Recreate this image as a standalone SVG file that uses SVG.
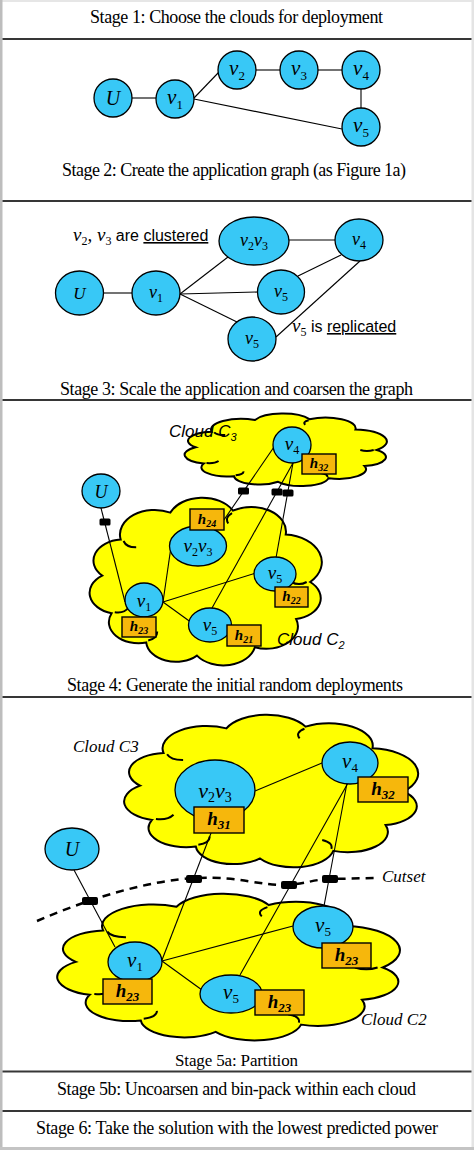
<svg xmlns="http://www.w3.org/2000/svg" width="474" height="1150" viewBox="0 0 474 1150">
<style>
.stage{font-family:"Liberation Serif",serif;font-size:18px;fill:#000;text-anchor:middle}
.node{fill:#38c8f6;stroke:#000;stroke-width:1.3}
.m{font-family:"Liberation Serif",serif;font-style:italic;text-anchor:middle;fill:#000}
.sub{font-style:normal}
.edge{stroke:#000;stroke-width:1.1;fill:none}
.cloud{fill:#ffff00;stroke:#000;stroke-width:2;vector-effect:non-scaling-stroke}
.crease{fill:none;stroke:#000;stroke-width:2;vector-effect:non-scaling-stroke}
.box{fill:#f6b70c;stroke:#000;stroke-width:1.4}
.hl{font-family:"Liberation Serif",serif;font-weight:bold;font-style:italic;text-anchor:middle;fill:#000}
.mk{fill:#000}
.sans{font-family:"Liberation Sans",sans-serif;font-style:normal}
.ci{font-family:"Liberation Sans",sans-serif;font-style:italic;fill:#000}
.cs{font-family:"Liberation Serif",serif;font-style:italic;fill:#000}
.div{stroke:#363636;stroke-width:2}
</style>
<defs>
<g id="cloudShape">
<path class="cloud" d="M84,0 A24,24 0 0 1 72.7,42 A25.5,25.5 0 0 1 39.4,74.2 A26,26 0 0 1 -7.3,83.7 A24,24 0 0 1 -48.2,68.8 A24,24 0 0 1 -76.1,35.5 A24,24 0 0 1 -83.7,-7.3 A24,24 0 0 1 -68.8,-48.2 A28,28 0 0 1 -28.7,-78.9 A28,28 0 0 1 21.7,-81.1 A28,28 0 0 1 64.3,-54 A31.6,31.6 0 0 1 84,0 Z"/>
<path class="crease" d="M81.2,0 Q75,4.8 68.8,0 M38.1,71.7 Q39.4,64 32.3,60.7 M-46.6,66.5 Q-39.1,64.2 -39.4,56.3 M-73.6,34.3 Q-66,36 -62.4,29 M-66.5,-46.6 Q-64.2,-39.2 -56.3,-39.4 M21,-78.4 Q14.9,-73.6 17.9,-66.4"/>
</g>
</defs>
<rect x="0" y="0" width="474" height="1150" fill="#fff"/>
<g id="frame">
<rect x="0" y="0" width="474" height="2" fill="#e6e6e6"/>
<rect x="0" y="0" width="2.5" height="1150" fill="#bdbdbd"/>
<rect x="471.5" y="0" width="2.5" height="1150" fill="#e4e4e4"/>
<rect x="0" y="1147" width="474" height="3" fill="#c4c4c4"/>
<line class="div" x1="2.5" y1="39" x2="471.5" y2="39"/>
<line class="div" x1="2.5" y1="201" x2="471.5" y2="201"/>
<line class="div" x1="2.5" y1="400" x2="471.5" y2="400"/>
<line class="div" x1="2.5" y1="697" x2="471.5" y2="697"/>
<line class="div" x1="2.5" y1="1071.5" x2="471.5" y2="1071.5"/>
<line class="div" x1="2.5" y1="1111" x2="471.5" y2="1111"/>
</g>
<g id="stage-titles">
<text class="stage" x="236.5" y="23" textLength="293">Stage 1: Choose the clouds for deployment</text>
<text class="stage" x="234" y="176" textLength="344">Stage 2: Create the application graph (as Figure 1a)</text>
<text class="stage" x="236.5" y="395" textLength="353">Stage 3: Scale the application and coarsen the graph</text>
<text class="stage" x="235" y="691" textLength="336">Stage 4: Generate the initial random deployments</text>
<text class="stage" x="236.5" y="1066" textLength="123" style="font-size:17px">Stage 5a: Partition</text>
<text class="stage" x="236.5" y="1095" textLength="359">Stage 5b: Uncoarsen and bin-pack within each cloud</text>
<text class="stage" x="237" y="1134" textLength="402">Stage 6: Take the solution with the lowest predicted power</text>
</g>

<!-- Stage 1-2 graph -->
<g id="s2-connectors">
<line class="edge" x1="132" y1="98" x2="156" y2="98"/>
<line class="edge" x1="194" y1="98" x2="219" y2="72"/>
<line class="edge" x1="256" y1="70" x2="280" y2="70"/>
<line class="edge" x1="318" y1="70" x2="342" y2="70"/>
<line class="edge" x1="361" y1="89" x2="361" y2="108"/>
<line class="edge" x1="194" y1="99" x2="342" y2="129"/>
</g>
<g id="s2-U"><circle class="node" cx="113" cy="98" r="19"/><text class="m" x="113" y="105" font-size="20">U</text></g>
<g id="s2-v1"><circle class="node" cx="175" cy="99" r="19"/><text class="m" x="175" y="103.5" font-size="21">v<tspan class="sub" font-size="13" dy="5">1</tspan></text></g>
<g id="s2-v2"><circle class="node" cx="237" cy="70" r="19"/><text class="m" x="237" y="74.5" font-size="21">v<tspan class="sub" font-size="13" dy="5">2</tspan></text></g>
<g id="s2-v3"><circle class="node" cx="299" cy="70" r="19"/><text class="m" x="299" y="74.5" font-size="21">v<tspan class="sub" font-size="13" dy="5">3</tspan></text></g>
<g id="s2-v4"><circle class="node" cx="361" cy="70" r="19"/><text class="m" x="361" y="74.5" font-size="21">v<tspan class="sub" font-size="13" dy="5">4</tspan></text></g>
<g id="s2-v5"><circle class="node" cx="361" cy="127" r="19"/><text class="m" x="361" y="131.5" font-size="21">v<tspan class="sub" font-size="13" dy="5">5</tspan></text></g>

<!-- Stage 3 graph -->
<g id="s3-connectors">
<line class="edge" x1="103" y1="293" x2="133" y2="293"/>
<line class="edge" x1="180" y1="294" x2="228" y2="257"/>
<line class="edge" x1="180" y1="294" x2="258" y2="292"/>
<line class="edge" x1="180" y1="294" x2="237" y2="322"/>
<line class="edge" x1="288" y1="240" x2="336" y2="240"/>
<line class="edge" x1="298" y1="276" x2="341" y2="255"/>
<line class="edge" x1="276" y1="337" x2="360" y2="261"/>
</g>
<g id="s3-v2v3"><ellipse class="node" cx="254" cy="241" rx="35" ry="24"/><text class="m" x="254" y="246" font-size="18">v<tspan class="sub" font-size="12" dy="4">2</tspan><tspan dy="-4">v</tspan><tspan class="sub" font-size="12" dy="4">3</tspan></text></g>
<g id="s3-v4"><ellipse class="node" cx="359" cy="240" rx="24" ry="21"/><text class="m" x="359" y="245" font-size="18">v<tspan class="sub" font-size="12" dy="4">4</tspan></text></g>
<g id="s3-U"><ellipse class="node" cx="79.5" cy="293" rx="24" ry="22"/><text class="m" x="79.5" y="299" font-size="17">U</text></g>
<g id="s3-v1"><ellipse class="node" cx="156" cy="293" rx="24" ry="22"/><text class="m" x="156" y="298" font-size="18">v<tspan class="sub" font-size="12" dy="4">1</tspan></text></g>
<g id="s3-v5a"><ellipse class="node" cx="281" cy="292" rx="23.5" ry="22"/><text class="m" x="281" y="297" font-size="18">v<tspan class="sub" font-size="12" dy="4">5</tspan></text></g>
<g id="s3-v5b"><ellipse class="node" cx="252" cy="339" rx="24" ry="22"/><text class="m" x="252" y="344" font-size="18">v<tspan class="sub" font-size="12" dy="4">5</tspan></text></g>
<g id="s3-notes">
<text class="m" x="73" y="241" font-size="19" style="text-anchor:start">v<tspan class="sub" font-size="12" dy="4">2</tspan><tspan dy="-4">, v</tspan><tspan class="sub" font-size="12" dy="4">3</tspan><tspan class="sans" font-size="16" dy="-4"> are </tspan><tspan class="sans" font-size="16" text-decoration="underline">clustered</tspan></text>
<text class="m" x="292" y="332" font-size="19" style="text-anchor:start">v<tspan class="sub" font-size="12" dy="4">5</tspan><tspan class="sans" font-size="16" dy="-4"> is </tspan><tspan class="sans" font-size="16" text-decoration="underline">replicated</tspan></text>
</g>

<!-- Stage 4 -->
<g id="s4-clouds">
<use href="#cloudShape" transform="translate(286,450) scale(1.08,0.38)"/>
<use href="#cloudShape" transform="translate(206,582) scale(1.24,0.88)"/>
</g>
<g id="s4-connectors">
<line class="edge" x1="101" y1="508" x2="125" y2="602"/>
<line class="edge" x1="206" y1="546" x2="274" y2="447"/>
<line class="edge" x1="163" y1="602" x2="172" y2="540"/>
<line class="edge" x1="163" y1="602" x2="256" y2="573"/>
<line class="edge" x1="163" y1="602" x2="192" y2="623"/>
<line class="edge" x1="293" y1="463" x2="212" y2="608"/>
<line class="edge" x1="293" y1="463" x2="276" y2="558"/>
<rect class="mk" x="99.5" y="518.5" width="11" height="7" rx="1.5"/>
<rect class="mk" x="238" y="487.5" width="11" height="7" rx="1.5"/>
<rect class="mk" x="271.5" y="488.5" width="11" height="7" rx="1.5"/>
<rect class="mk" x="282.5" y="489.5" width="11" height="7" rx="1.5"/>
</g>
<g id="s4-labels">
<text class="ci" x="169" y="437" font-size="17">Cloud C<tspan font-size="11" dy="4">3</tspan></text>
<text class="ci" x="277" y="645" font-size="17">Cloud C<tspan font-size="11" dy="4">2</tspan></text>
</g>
<g id="s4-U"><ellipse class="node" cx="101" cy="491" rx="19" ry="17"/><text class="m" x="101" y="497.5" font-size="18">U</text></g>
<g id="s4-v4"><ellipse class="node" cx="292" cy="445" rx="19" ry="18"/><text class="m" x="292" y="450" font-size="19">v<tspan class="sub" font-size="12" dy="4">4</tspan></text></g>
<g id="s4-v2v3"><ellipse class="node" cx="198" cy="546" rx="28.5" ry="20"/><text class="m" x="198" y="552" font-size="19">v<tspan class="sub" font-size="12" dy="4">2</tspan><tspan dy="-4">v</tspan><tspan class="sub" font-size="12" dy="4">3</tspan></text></g>
<g id="s4-v5a"><ellipse class="node" cx="275" cy="574" rx="21" ry="17"/><text class="m" x="275" y="579" font-size="19">v<tspan class="sub" font-size="12" dy="4">5</tspan></text></g>
<g id="s4-v1"><ellipse class="node" cx="144" cy="600" rx="19" ry="17"/><text class="m" x="144" y="607" font-size="19">v<tspan class="sub" font-size="12" dy="4">1</tspan></text></g>
<g id="s4-v5b"><ellipse class="node" cx="210" cy="625" rx="21.5" ry="17"/><text class="m" x="210" y="631" font-size="19">v<tspan class="sub" font-size="12" dy="4">5</tspan></text></g>
<g id="s4-h32"><rect class="box" x="302" y="454" width="34" height="20"/><text class="hl" x="319" y="468" font-size="15">h<tspan font-size="10" dy="3">32</tspan></text></g>
<g id="s4-h24"><rect class="box" x="190" y="509" width="34" height="21"/><text class="hl" x="207" y="523.5" font-size="15">h<tspan font-size="10" dy="3">24</tspan></text></g>
<g id="s4-h22"><rect class="box" x="275" y="587" width="33" height="20"/><text class="hl" x="291.5" y="601" font-size="15">h<tspan font-size="10" dy="3">22</tspan></text></g>
<g id="s4-h23"><rect class="box" x="122" y="617" width="34" height="20"/><text class="hl" x="139" y="631" font-size="15">h<tspan font-size="10" dy="3">23</tspan></text></g>
<g id="s4-h21"><rect class="box" x="227" y="625" width="34" height="21"/><text class="hl" x="244" y="639.5" font-size="15">h<tspan font-size="10" dy="3">21</tspan></text></g>

<!-- Stage 5a -->
<g id="s5-clouds">
<use href="#cloudShape" transform="translate(271.5,791.5) scale(1.57,0.8)"/>
<use href="#cloudShape" transform="translate(229,967.5) scale(1.83,0.77)"/>
</g>
<g id="s5-connectors">
<path d="M37,921 C90,898 150,880 197,878 C240,876 260,886 287,885 C305,884 315,879 331,879 L375,878" fill="none" stroke="#000" stroke-width="2.5" stroke-dasharray="8,6"/>
<line class="edge" x1="255" y1="791" x2="322" y2="763"/>
<line class="edge" x1="74" y1="870" x2="115" y2="947"/>
<line class="edge" x1="218" y1="815" x2="162" y2="960"/>
<line class="edge" x1="348" y1="783" x2="240" y2="975"/>
<line class="edge" x1="347" y1="783" x2="324" y2="906"/>
<line class="edge" x1="162" y1="961" x2="293" y2="926"/>
<line class="edge" x1="162" y1="961" x2="202" y2="990"/>
<rect class="mk" x="82" y="897" width="16" height="8" rx="2"/>
<rect class="mk" x="186" y="875" width="16" height="8" rx="2"/>
<rect class="mk" x="281" y="881" width="16" height="8" rx="2"/>
<rect class="mk" x="322" y="875" width="16" height="8" rx="2"/>
</g>
<g id="s5-labels">
<text class="cs" x="73" y="752" font-size="17">Cloud C3</text>
<text class="cs" x="361" y="1025" font-size="17">Cloud C2</text>
<text class="cs" x="382" y="882" font-size="17">Cutset</text>
</g>
<g id="s5-v2v3"><ellipse class="node" cx="215" cy="790" rx="40" ry="30"/><text class="m" x="215" y="798" font-size="22">v<tspan class="sub" font-size="14" dy="4">2</tspan><tspan dy="-4">v</tspan><tspan class="sub" font-size="14" dy="4">3</tspan></text></g>
<g id="s5-v4"><ellipse class="node" cx="350" cy="763" rx="28" ry="21"/><text class="m" x="350" y="768" font-size="21">v<tspan class="sub" font-size="13" dy="4">4</tspan></text></g>
<g id="s5-U"><ellipse class="node" cx="72" cy="849" rx="27" ry="21"/><text class="m" x="72" y="856" font-size="20">U</text></g>
<g id="s5-v1"><ellipse class="node" cx="135" cy="962" rx="27" ry="20"/><text class="m" x="135" y="967" font-size="21">v<tspan class="sub" font-size="13" dy="4">1</tspan></text></g>
<g id="s5-v5a"><ellipse class="node" cx="231" cy="994" rx="31" ry="19"/><text class="m" x="231" y="999" font-size="21">v<tspan class="sub" font-size="13" dy="4">5</tspan></text></g>
<g id="s5-v5b"><ellipse class="node" cx="323" cy="927" rx="30" ry="21"/><text class="m" x="323" y="932" font-size="21">v<tspan class="sub" font-size="13" dy="4">5</tspan></text></g>
<g id="s5-h31"><rect class="box" x="194" y="807" width="50" height="26"/><text class="hl" x="219" y="825" font-size="19">h<tspan font-size="13" dy="4">31</tspan></text></g>
<g id="s5-h32"><rect class="box" x="358" y="777" width="50" height="25"/><text class="hl" x="383" y="794.5" font-size="19">h<tspan font-size="13" dy="4">32</tspan></text></g>
<g id="s5-h23a"><rect class="box" x="103" y="979" width="49" height="25"/><text class="hl" x="127.5" y="996.5" font-size="19">h<tspan font-size="13" dy="4">23</tspan></text></g>
<g id="s5-h23b"><rect class="box" x="255" y="990" width="49" height="25"/><text class="hl" x="279.5" y="1007.5" font-size="19">h<tspan font-size="13" dy="4">23</tspan></text></g>
<g id="s5-h23c"><rect class="box" x="322" y="943" width="49" height="25"/><text class="hl" x="346.5" y="960.5" font-size="19">h<tspan font-size="13" dy="4">23</tspan></text></g>
</svg>
